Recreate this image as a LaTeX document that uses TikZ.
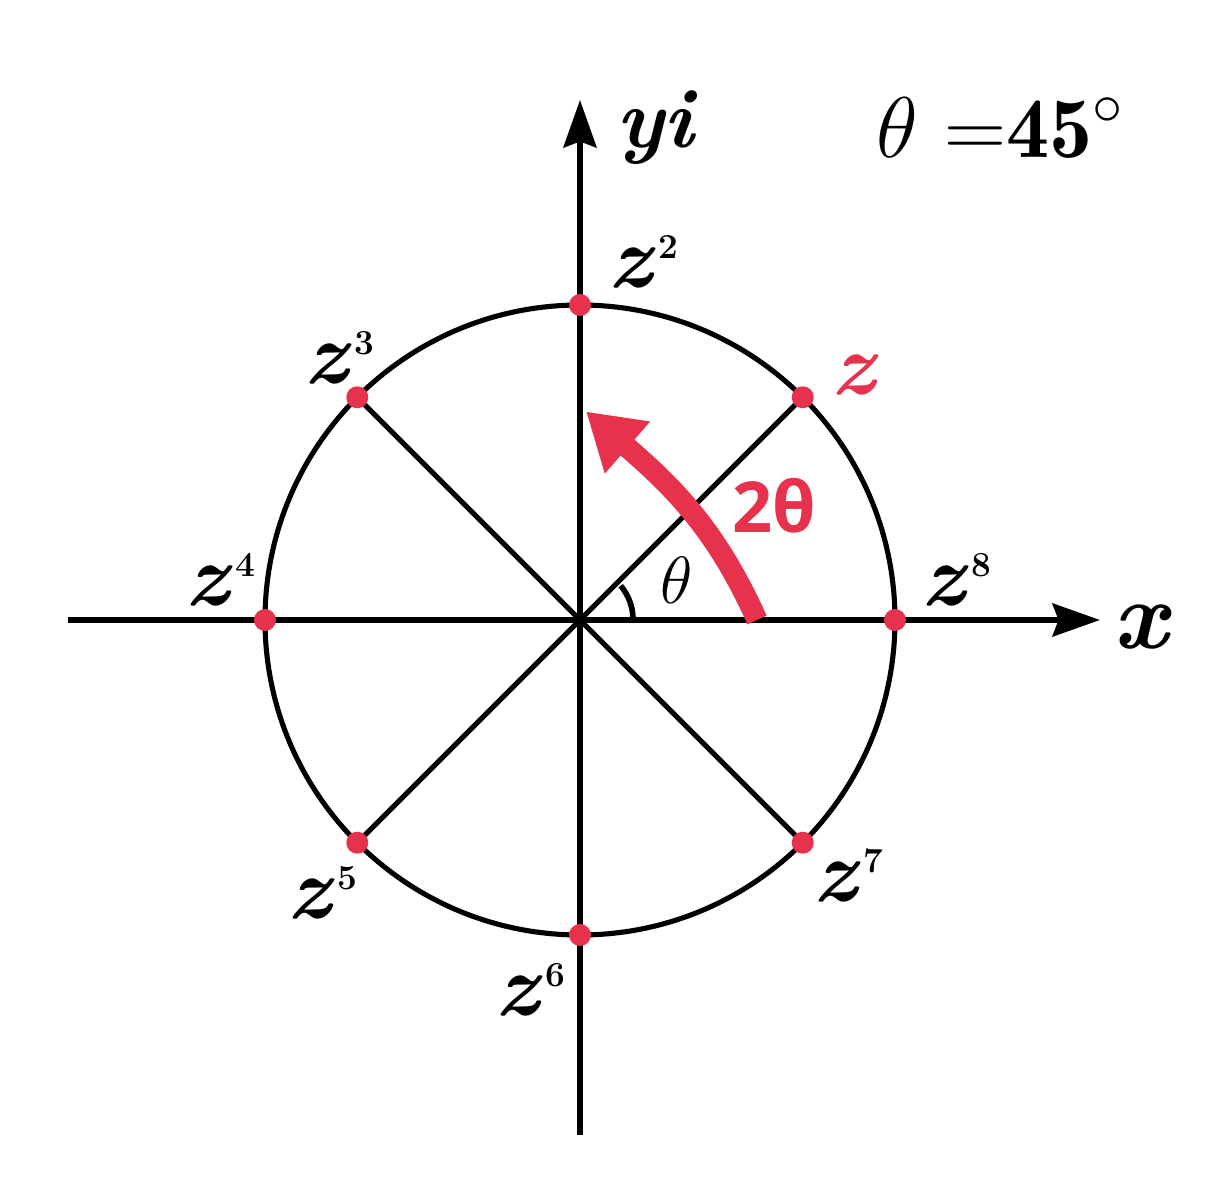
\RequirePackage{fix-cm}
\documentclass[tikz,border=0pt]{standalone}
\usepackage{amsmath,amssymb}
\usepackage{fontspec}
\newfontfamily\sanslabel{Open Sans}
\usepackage{xcolor}
\usepackage{tikz}
\usetikzlibrary{arrows.meta,positioning,calc}
\definecolor{rootred}{RGB}{230,50,76}
\newcommand{\zpow}[1]{z\/\kern1.5pt\raisebox{0.74ex}{\fontsize{20}{24}\selectfont\upshape #1}}

\begin{document}
\begin{tikzpicture}[
    axis/.style={line width=2.9pt, -{Stealth[length=0.95cm, width=0.66cm, inset=0.12cm]}},
    ray/.style={line width=2.9pt},
    dot/.style={circle, fill=rootred, inner sep=0pt, minimum size=0.44cm},
    zlab/.style={inner sep=0pt, font=\fontsize{50}{60}\selectfont\bfseries\itshape},
    turn/.style={rootred, line width=12pt, -{Triangle[length=1.1cm, width=1.3cm]}}
]
\useasboundingbox (-11.6,-11.24) rectangle (12.72,12.4);

% Centre and axis ends
\coordinate (O) at (0,0);
\coordinate (xl) at (-10.24,0);
\coordinate (xr) at (10.4,0);
\coordinate (yb) at (0,-10.3);
\coordinate (yt) at (0,10.4);

% Axes
\draw[axis] (xl) -- (xr);
\draw[axis] (yb) -- (yt);
\node[inner sep=0pt, font=\fontsize{55}{62}\selectfont\bfseries\itshape, right=0.26cm of xr, yshift=-0.14cm] (xlab) {x};
\node[inner sep=0pt, font=\fontsize{48}{56}\selectfont\bfseries\itshape] (ylab) at (1.5,9.84) {yi};

% Unit circle
\draw[ray] (O) circle (6.3);

% Powers of z on the circle
\foreach \k/\ang in {1/45,2/90,3/135,4/180,5/225,6/270,7/315,8/360}
  \coordinate (p\k) at (\ang:6.3);

\draw[ray] (p3) -- (p7);
\draw[ray] (p5) -- (p1);

% Angle theta
\draw[line width=3.2pt] (1.06,0.06) arc[start angle=3, end angle=40, radius=1.06];
\node[font=\fontsize{38}{44}\selectfont] (th) at (1.93,0.8) {$\theta$};

% Doubling arrow
\coordinate (a0) at (3.54,0);
\coordinate (a1) at (0.12,4.17);
\draw[turn] (a0) to[out=114, in=-41] (a1);
\node[text=rootred, font=\sanslabel\bfseries\fontsize{40}{48}\selectfont] (twoth) at (3.88,2.28) {2θ};

% Dots
\foreach \k in {1,...,8}
  \node[dot] (d\k) at (p\k) {};

% Labels
\node[zlab, text=rootred] (l1) at ($(d1)+(1.0,0.44)$) {z};
\node[zlab] (l2) at ($(d2)+(1.26,0.86)$) {\zpow{2}};
\node[zlab] (l3) at ($(d3)+(-0.36,0.78)$) {\zpow{3}};
\node[zlab] (l4) at ($(d4)+(-0.9,0.8)$) {\zpow{4}};
\node[zlab] (l5) at ($(d5)+(-0.7,-1.0)$) {\zpow{5}};
\node[zlab] (l6) at ($(d6)+(-1.0,-1.1)$) {\zpow{6}};
\node[zlab] (l7) at ($(d7)+(0.92,-0.66)$) {\zpow{7}};
\node[zlab] (l8) at ($(d8)+(1.22,0.8)$) {\zpow{8}};

% Title
\node[font=\fontsize{49}{56}\selectfont] (title) at (8.4,9.84) {$\theta$ =$\mathbf{45}^{\circ}$};

\end{tikzpicture}
\end{document}
